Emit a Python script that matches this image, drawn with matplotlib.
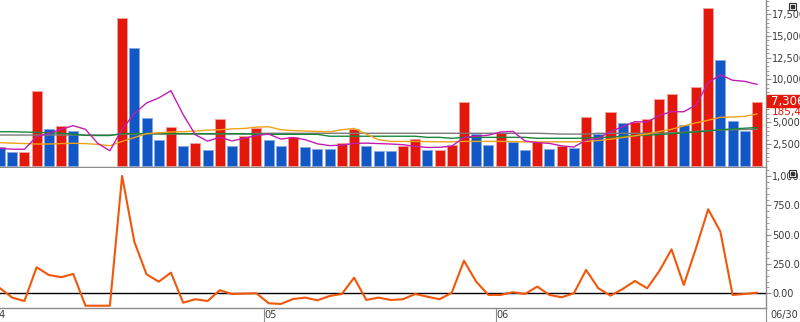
"""Volume bars with moving averages and a volume-change line below"""

import matplotlib
matplotlib.use("Agg")
import matplotlib.pyplot as plt
import matplotlib.transforms as mtransforms
from matplotlib.patches import Rectangle
import numpy as np

# one value per trading day (63 days, 04 -> 06/30); 0 = no trading
volume = [2150, 1575, 1575, 8670, 4200, 4620, 4000, 0, 0, 0,
          17050, 13650, 5510, 2960, 4500, 2300, 2580, 1770, 5360, 2300,
          3430, 4390, 2960, 2300, 3270, 2150, 1920, 1920, 2580, 4240,
          2300, 1690, 1690, 2300, 3040, 1770, 1800, 2350, 7330, 3660,
          2350, 3740, 2700, 1770, 2700, 1920, 2300, 2070, 5590, 3660,
          6170, 4970, 5050, 5390, 7710, 8290, 4700, 9060, 18280, 12220,
          5160, 4000, 7306]
updown = list("bbrrbrbrrr" "rbbbrbrbrb" "rrbbrbbbrr" "bbbrrbrrrb"
              "brbbrbrbrb" "rbrrrrbrrb" "bbr")

ma_magenta = [2000, 1900, 1890, 3350, 3740, 4200, 4620, 4200, 2580, 1720,
              4210, 6000, 7250, 7830, 8670, 5900, 3570, 2830, 3280, 2860,
              3150, 3480, 3650, 3070, 3250, 3000, 2520, 2310, 2370, 2570,
              2600, 2550, 2500, 2420, 2220, 2100, 2120, 2250, 3260, 3400,
              3520, 3890, 3960, 2850, 2660, 2570, 2280, 2150, 2950, 3150,
              3950, 4500, 5090, 5050, 5800, 6250, 6230, 7000, 9600, 10500,
              9880, 9750, 9400]
ma_orange = [2650, 2600, 2550, 2500, 2500, 2550, 2580, 2550, 2450, 2300,
             2800, 3250, 3700, 3800, 3900, 3920, 4000, 4100, 4150, 4250,
             4300, 4450, 4500, 4150, 4050, 4000, 3950, 3900, 4150, 4300,
             3650, 3000, 2800, 2800, 2800, 2780, 2750, 2750, 2800, 2800,
             2800, 2800, 2780, 2750, 2750, 2750, 2750, 2750, 2800, 2900,
             3050, 3250, 3450, 3650, 3950, 4200, 4600, 4950, 5250, 5590,
             5620, 5700, 5970]
ma_green = [3920, 3920, 3880, 3850, 3800, 3750, 3650, 3500, 3480, 3480,
            3700, 3700, 3700, 3700, 3700, 3700, 3700, 3700, 3700, 3700,
            3700, 3620, 3620, 3620, 3620, 3620, 3620, 3400, 3400, 3400,
            3400, 3400, 3400, 3400, 3400, 3270, 3270, 3160, 3270, 3270,
            3270, 3270, 3270, 3270, 3160, 3160, 3160, 3160, 3200, 3250,
            3300, 3380, 3450, 3520, 3600, 3700, 3780, 3900, 4000, 4150,
            4250, 4330, 4400]
ma_gray = [3540, 3540, 3540, 3540, 3540, 3540, 3540, 3540, 3540, 3540,
           3650, 3650, 3650, 3650, 3650, 3650, 3650, 3650, 3650, 3650,
           3650, 3740, 3740, 3740, 3740, 3740, 3740, 3740, 3740, 3740,
           3740, 3740, 3740, 3740, 3740, 3740, 3740, 3740, 3740, 3740,
           3740, 3740, 3740, 3740, 3740, 3700, 3650, 3650, 3650, 3740,
           3740, 3740, 3740, 3740, 3740, 3800, 3850, 3950, 4050, 4120,
           4150, 4180, 4200]

vol_change = [43, -37, -66, 222, 156, 137, 165, -106, -106, -106,
              1001, 440, 162, 99, 176, -80, -51, -66, 26, -6,
              -3, 0, -85, -91, -49, -37, -60, -23, -6, 133,
              -57, -37, -57, -51, -6, -29, -51, 5, 278, 99,
              -14, -14, 9, -6, 57, -14, -34, 0, 199, 43,
              -20, 37, 105, 43, 190, 375, 71, 384, 717, 526,
              -14, -6, 5]

month_labels = ["04", "05", "06"]
month_start = [-0.25, 22, 41]
last_label = "06/30"
vol_ticks = [2500, 5000, 7500, 10000, 12500, 15000, 17500]
chg_ticks = [0, 250, 500, 750, 1000]

RED = "#E3170A"
BLUE = "#1157C5"
AXC = "#8C8C8C"
TXT = "#3A3A3A"


def main():
    W, H = 800, 322
    fig = plt.figure(figsize=(W / 100, H / 100), dpi=100)
    right = 766 / W
    ax = fig.add_axes([0, 1 - 167 / H, right, 167 / H])
    ax2 = fig.add_axes([0, 1 - 307.7 / H, right, (307.7 - 168) / H])

    x = np.arange(len(volume))
    xlim = (0, 766 / 12.21)

    # --- volume panel ---
    vol = np.array(volume)
    face = [RED if c == "r" else BLUE for c in updown]
    edge = ["#F4A09A" if c == "r" else "#86A9E4" for c in updown]
    keep = vol > 0
    ax.bar(x[keep], vol[keep], width=0.82, color=np.array(face)[keep],
           edgecolor=np.array(edge)[keep], linewidth=0.7, zorder=2)
    ax.plot(x, ma_gray, color="#7A7A7A", lw=1.0, zorder=3)
    ax.plot(x, ma_green, color="#16873A", lw=1.0, zorder=3)
    ax.plot(x, ma_orange, color="#EFA11A", lw=1.0, zorder=3)
    ax.plot(x, ma_magenta, color="#C21DB0", lw=1.0, zorder=4)
    ax.set_xlim(*xlim)
    ax.set_ylim(-162, 19167)

    # --- change panel ---
    ax2.axhline(0, color="black", lw=1.0, zorder=2)
    ax2.plot(x, vol_change, color="#F2560A", lw=1.5, zorder=3)
    ax2.set_xlim(*xlim)
    ax2.set_ylim(-123, 1069)

    for a, ticks, fmt, minor in ((ax, vol_ticks, "{:,.0f}K", 500),
                                 (ax2, chg_ticks, "{:,.2f}", 50)):
        for s in ("top", "left"):
            a.spines[s].set_visible(False)
        for s in ("right", "bottom"):
            a.spines[s].set_color(AXC)
            a.spines[s].set_linewidth(1.0)
        a.yaxis.tick_right()
        a.set_yticks(ticks)
        a.set_yticklabels([fmt.format(t) for t in ticks])
        a.set_yticks(np.arange(minor, a.get_ylim()[1], minor), minor=True)
        a.tick_params(axis="y", which="major", length=3.5, width=0.8,
                      color=AXC, pad=1, labelsize=7, labelcolor=TXT)
        a.tick_params(axis="y", which="minor", length=2, width=0.6, color=AXC)
        a.set_xticks([])

    # date band below the lower panel
    trans = mtransforms.blended_transform_factory(ax2.transData, ax2.transAxes)
    band = 14.3 / (307.7 - 168)
    for lab, s in zip(month_labels, month_start):
        xl = s - 0.41
        ax2.plot([xl, xl], [0, -band], color=AXC, lw=0.8,
                 transform=trans, clip_on=False)
        ax2.text(xl + 0.1, -band / 2, lab, transform=trans, ha="left",
                 va="center", fontsize=7, color=TXT)
    ax2.plot([1, 1], [0, -band], color=AXC, lw=0.8,
             transform=ax2.transAxes, clip_on=False)
    ax2.text(1.006, -band / 2, last_label, transform=ax2.transAxes,
             ha="left", va="center", fontsize=7, color=TXT)
    fig.add_artist(plt.Line2D([0, 1], [0.5 / H, 0.5 / H], color=AXC,
                              lw=0.8, transform=fig.transFigure))

    # last-value marker on the right axis
    fig.add_artist(Rectangle((767 / W, 1 - 107 / H), 40 / W, 12 / H,
                             transform=fig.transFigure, color=RED, zorder=5))
    fig.text(771 / W, 1 - 101 / H, "{:,}".format(volume[-1]), color="white",
             fontsize=8.5, va="center", ha="left", zorder=6)
    fig.text(772 / W, 1 - 112 / H, "185,4", color=RED, fontsize=7.5,
             va="center", ha="left", zorder=6)

    # small panel icons
    for yt in (2, 169):
        fig.add_artist(Rectangle((789 / W, 1 - (yt + 8) / H), 7 / W, 7 / H,
                                 transform=fig.transFigure, facecolor="white",
                                 edgecolor="#333333", lw=0.8, zorder=5))
        fig.add_artist(Rectangle((791 / W, 1 - (yt + 6) / H), 3 / W, 3 / H,
                                 transform=fig.transFigure, color="#333333",
                                 zorder=6))

    fig.savefig("out.png", dpi=100)


if __name__ == "__main__":
    main()
